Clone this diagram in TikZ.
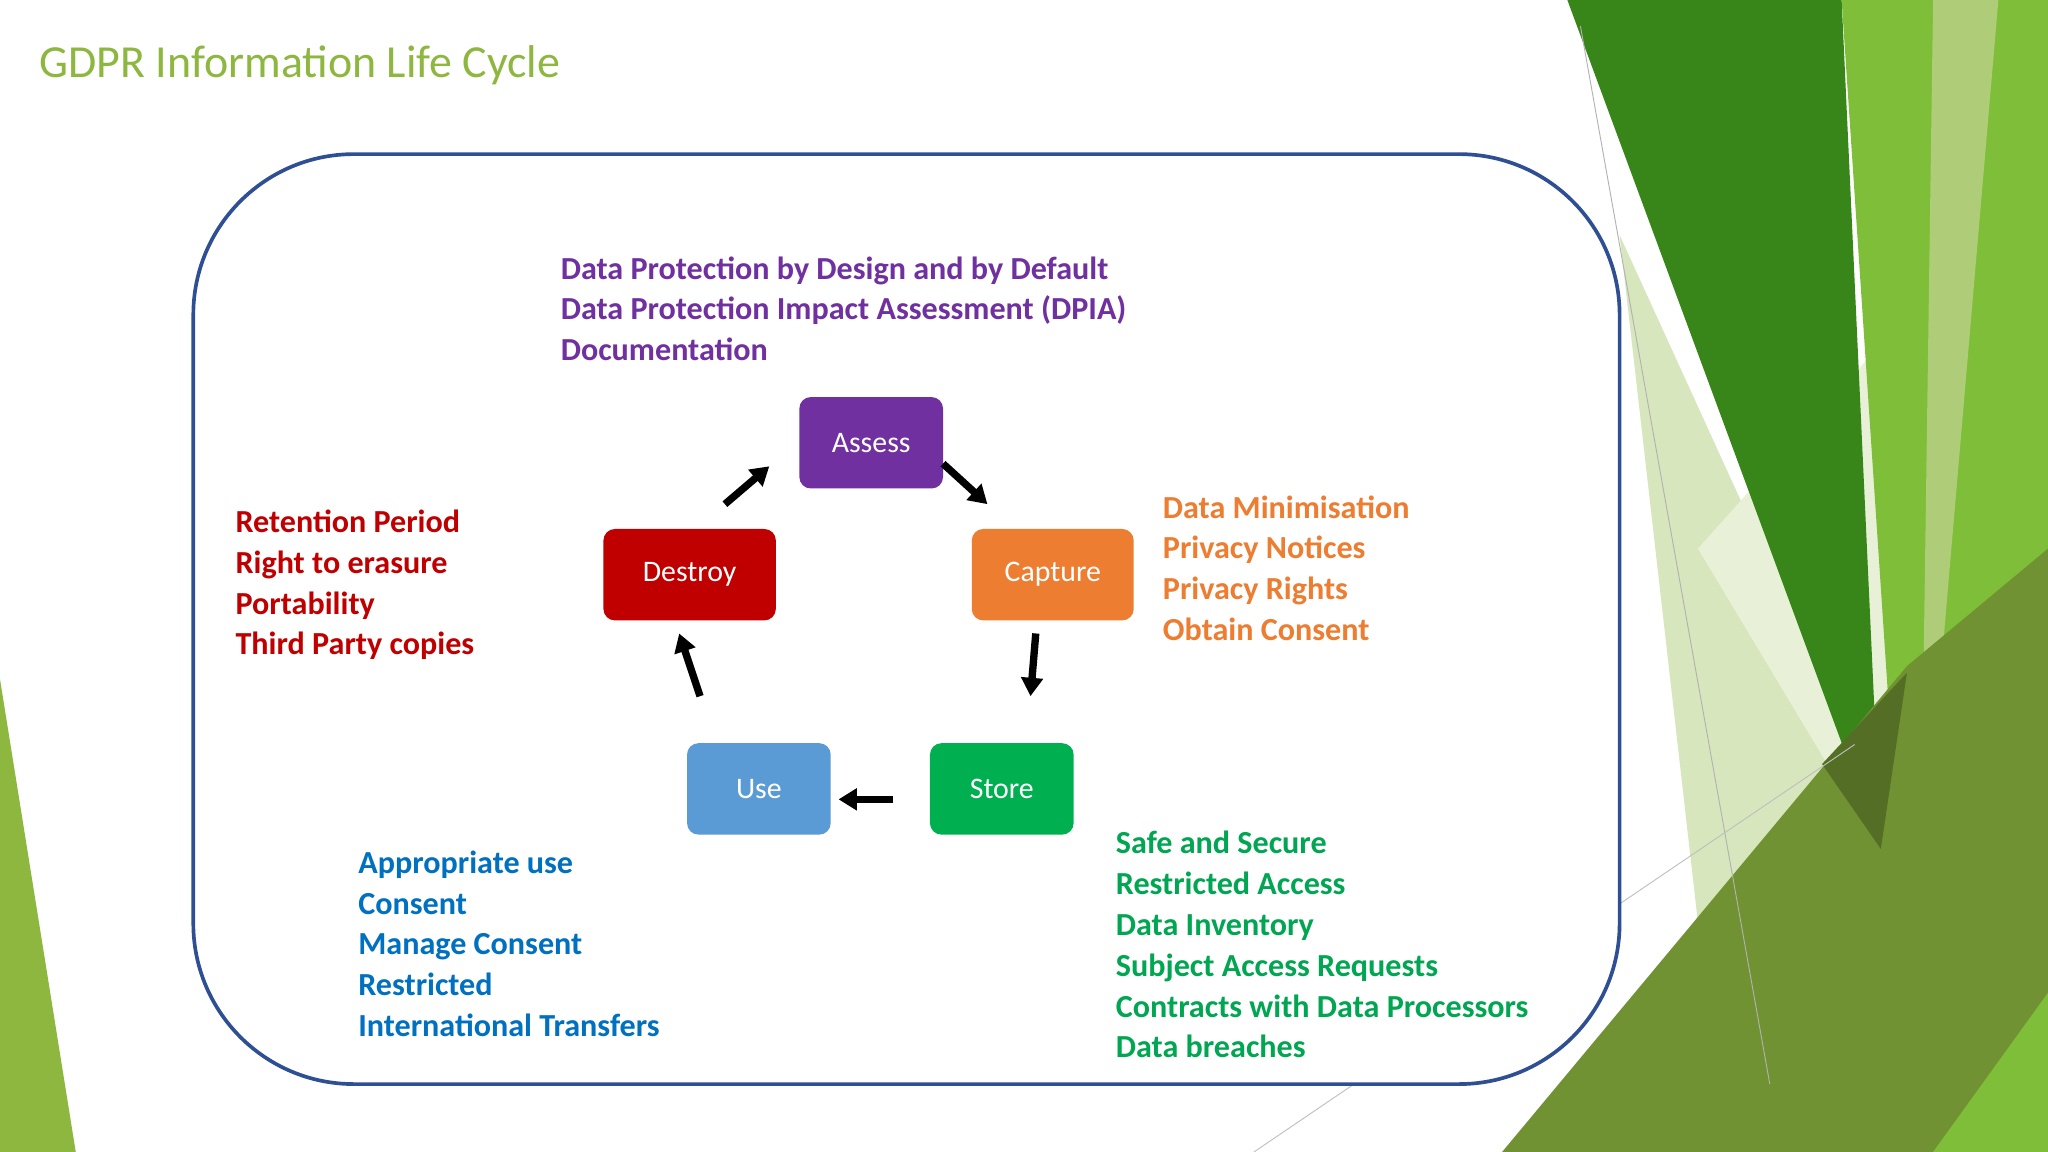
\documentclass[tikz,border=0pt]{standalone}
\usepackage{fontspec}
\setmainfont{Carlito}
\usetikzlibrary{arrows.meta}
\definecolor{ttl}{HTML}{8DB73F}
\definecolor{frame}{HTML}{2F4F94}
\definecolor{cpur}{HTML}{7030A0}
\definecolor{cred}{HTML}{C00000}
\definecolor{corg}{HTML}{ED7D31}
\definecolor{cgrn}{HTML}{00B050}
\definecolor{cblu}{HTML}{5B9BD5}
\definecolor{tblu}{HTML}{0070C0}
\definecolor{tgrn}{HTML}{00A651}
\definecolor{tred}{HTML}{C00000}
\tikzset{
 box/.style={rounded corners=5pt, minimum height=70*0.02cm, text=white, font=\fontsize{13}{15}\selectfont, inner sep=0pt},
 lst/.style={anchor=north west, align=left, font=\bfseries\fontsize{14}{17.8}\selectfont, inner sep=0pt},
 cyc/.style={line width=3.2pt, -{Triangle[length=8pt,width=12pt,angle'=60]}, black},
}
\begin{document}
\begin{tikzpicture}[x=0.02cm,y=-0.02cm]
\useasboundingbox (0,0) rectangle (1568,882);
\fill[white] (0,0) rectangle (1568,882);
% background decoration
\fill[ttl!35] (1240,180) -- (1450,640) -- (1400,882) -- (1320,882) -- cycle;
\fill[ttl!20] (1300,420) -- (1568,120) -- (1568,300) -- (1420,620) -- cycle;
\fill[green!40!black!60!ttl] (1200,0) -- (1410,0) -- (1440,650) -- cycle;
\fill[ttl!90!green] (1410,0) -- (1568,0) -- (1568,882) -- (1430,882) -- (1450,600) -- cycle;
\fill[ttl!70!white] (1480,0) -- (1530,0) -- (1470,700) -- cycle;
\fill[ttl!80!black] (1150,882) -- (1460,510) -- (1568,420) -- (1568,882) -- cycle;
\fill[ttl!60!black] (1395,585) -- (1460,515) -- (1440,650) -- cycle;
\fill[ttl!90!green] (1480,882) -- (1568,760) -- (1568,882) -- cycle;
\fill[ttl] (0,520) -- (0,882) -- (58,882) -- cycle;
\draw[gray!60, line width=0.4pt] (1210,20) -- (1355,830);
\draw[gray!50, line width=0.4pt] (960,882) -- (1420,570);
% title
\node[anchor=west, text=ttl, font=\fontsize{20}{24}\selectfont, inner sep=0pt] (title) at (30,50) {GDPR Information Life Cycle};
% frame
\draw[frame, line width=1.6pt, fill=white, rounded corners=70pt] (148,118) rectangle (1240,830);
% boxes
\node[box, fill=cpur, minimum width=110*0.02cm] (assess) at (667,339) {Assess};
\node[box, fill=cred, minimum width=132*0.02cm] (destroy) at (528,440) {Destroy};
\node[box, fill=corg, minimum width=124*0.02cm] (capture) at (806,440) {Capture};
\node[box, fill=cblu, minimum width=110*0.02cm] (use) at (581,604) {Use};
\node[box, fill=cgrn, minimum width=110*0.02cm] (store) at (767,604) {Store};
% arrows
\coordinate (a1) at (722,355); \coordinate (a2) at (756,386);
\coordinate (b1) at (793,485); \coordinate (b2) at (789,533);
\coordinate (c1) at (684,612); \coordinate (c2) at (642,612);
\coordinate (d1) at (536,533); \coordinate (d2) at (520,485);
\coordinate (e1) at (555,386); \coordinate (e2) at (589,357);
\draw[cyc] (a1) -- (a2);
\draw[cyc] (b1) -- (b2);
\draw[cyc] (c1) -- (c2);
\draw[cyc] (d1) -- (d2);
\draw[cyc] (e1) -- (e2);
% lists
\node[lst, text=cpur] (lpur) at (429,196) {Data Protection by Design and by Default\\Data Protection Impact Assessment (DPIA)\\Documentation};
\node[lst, text=tred] (lred) at (180,390) {Retention Period\\Right to erasure\\Portability\\Third Party copies};
\node[lst, text=corg] (lorg) at (890,379) {Data Minimisation\\Privacy Notices\\Privacy Rights\\Obtain Consent};
\node[lst, text=tblu] (lblu) at (274,651) {Appropriate use\\Consent\\Manage Consent\\Restricted\\International Transfers};
\node[lst, text=tgrn] (lgrn) at (854,636) {Safe and Secure\\Restricted Access\\Data Inventory\\Subject Access Requests\\Contracts with Data Processors\\Data breaches};
\end{tikzpicture}
\end{document}
